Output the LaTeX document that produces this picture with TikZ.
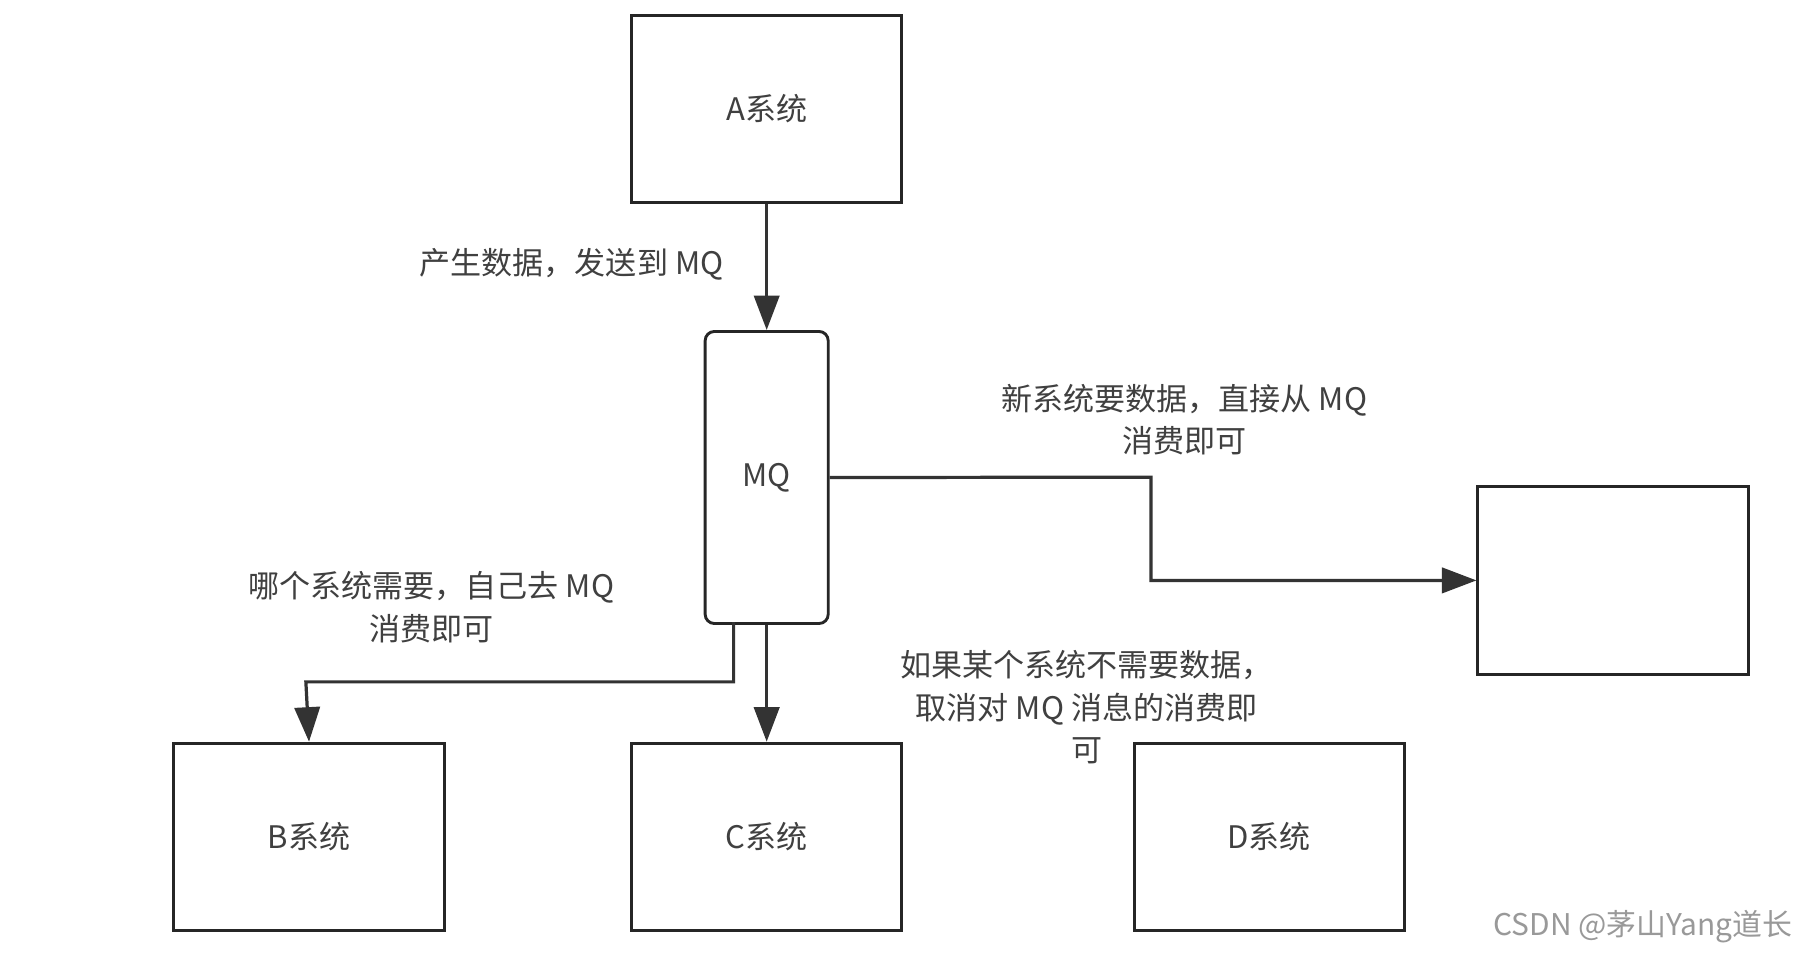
\documentclass[tikz,border=0pt]{standalone}
\usepackage{fontspec}
\setmainfont{Noto Sans CJK SC}
\usetikzlibrary{arrows.meta}
\begin{document}
\begin{tikzpicture}[x=1pt,y=-1pt,
  box/.style={draw=black!85,line width=2.5pt,minimum width=235pt,minimum height=163pt,anchor=north west,font=\fontsize{27}{32}\selectfont,text=black!75},
  conn/.style={draw=black!80,line width=2.8pt,-{Triangle[length=30pt,width=22pt]}},
  lbl/.style={font=\fontsize{27}{37}\selectfont,text=black!75,align=center}]
\useasboundingbox (0,0) rectangle (1568,836);
\fill[white] (0,0) rectangle (1568,836);
\node[box] (A) at (548,12) {A系统};
\node[box,minimum width=107pt,minimum height=254pt,rounded corners=8pt] (MQ) at (612,287) {MQ};
\node[box] (E) at (1284,422) {};
\node[box] (B) at (150,645) {B系统};
\node[box] (C) at (548,645) {C系统};
\node[box] (D) at (985,645) {D系统};
\draw[conn] (A.south) -- (MQ.north);
\draw[conn] (MQ.east) -- (1001,415) |- (E.west);
\draw[conn] (638,541) |- (266,593) -- (B.north);
\draw[conn] (MQ.south) -- (C.north);
\node[lbl] (l1) at (497,230) {产生数据，发送到 MQ};
\node[lbl] (l2) at (1030,365) {新系统要数据，直接从 MQ\\消费即可};
\node[lbl] (l3) at (375,528) {哪个系统需要，自己去 MQ\\消费即可};
\node[lbl] (l4) at (945,615) {如果某个系统不需要数据，\\取消对 MQ 消息的消费即\\可};
\node[font=\fontsize{26}{30}\selectfont,text=black!40,anchor=east] (w) at (1562,806) {CSDN @茅山Yang道长};
\end{tikzpicture}
\end{document}
